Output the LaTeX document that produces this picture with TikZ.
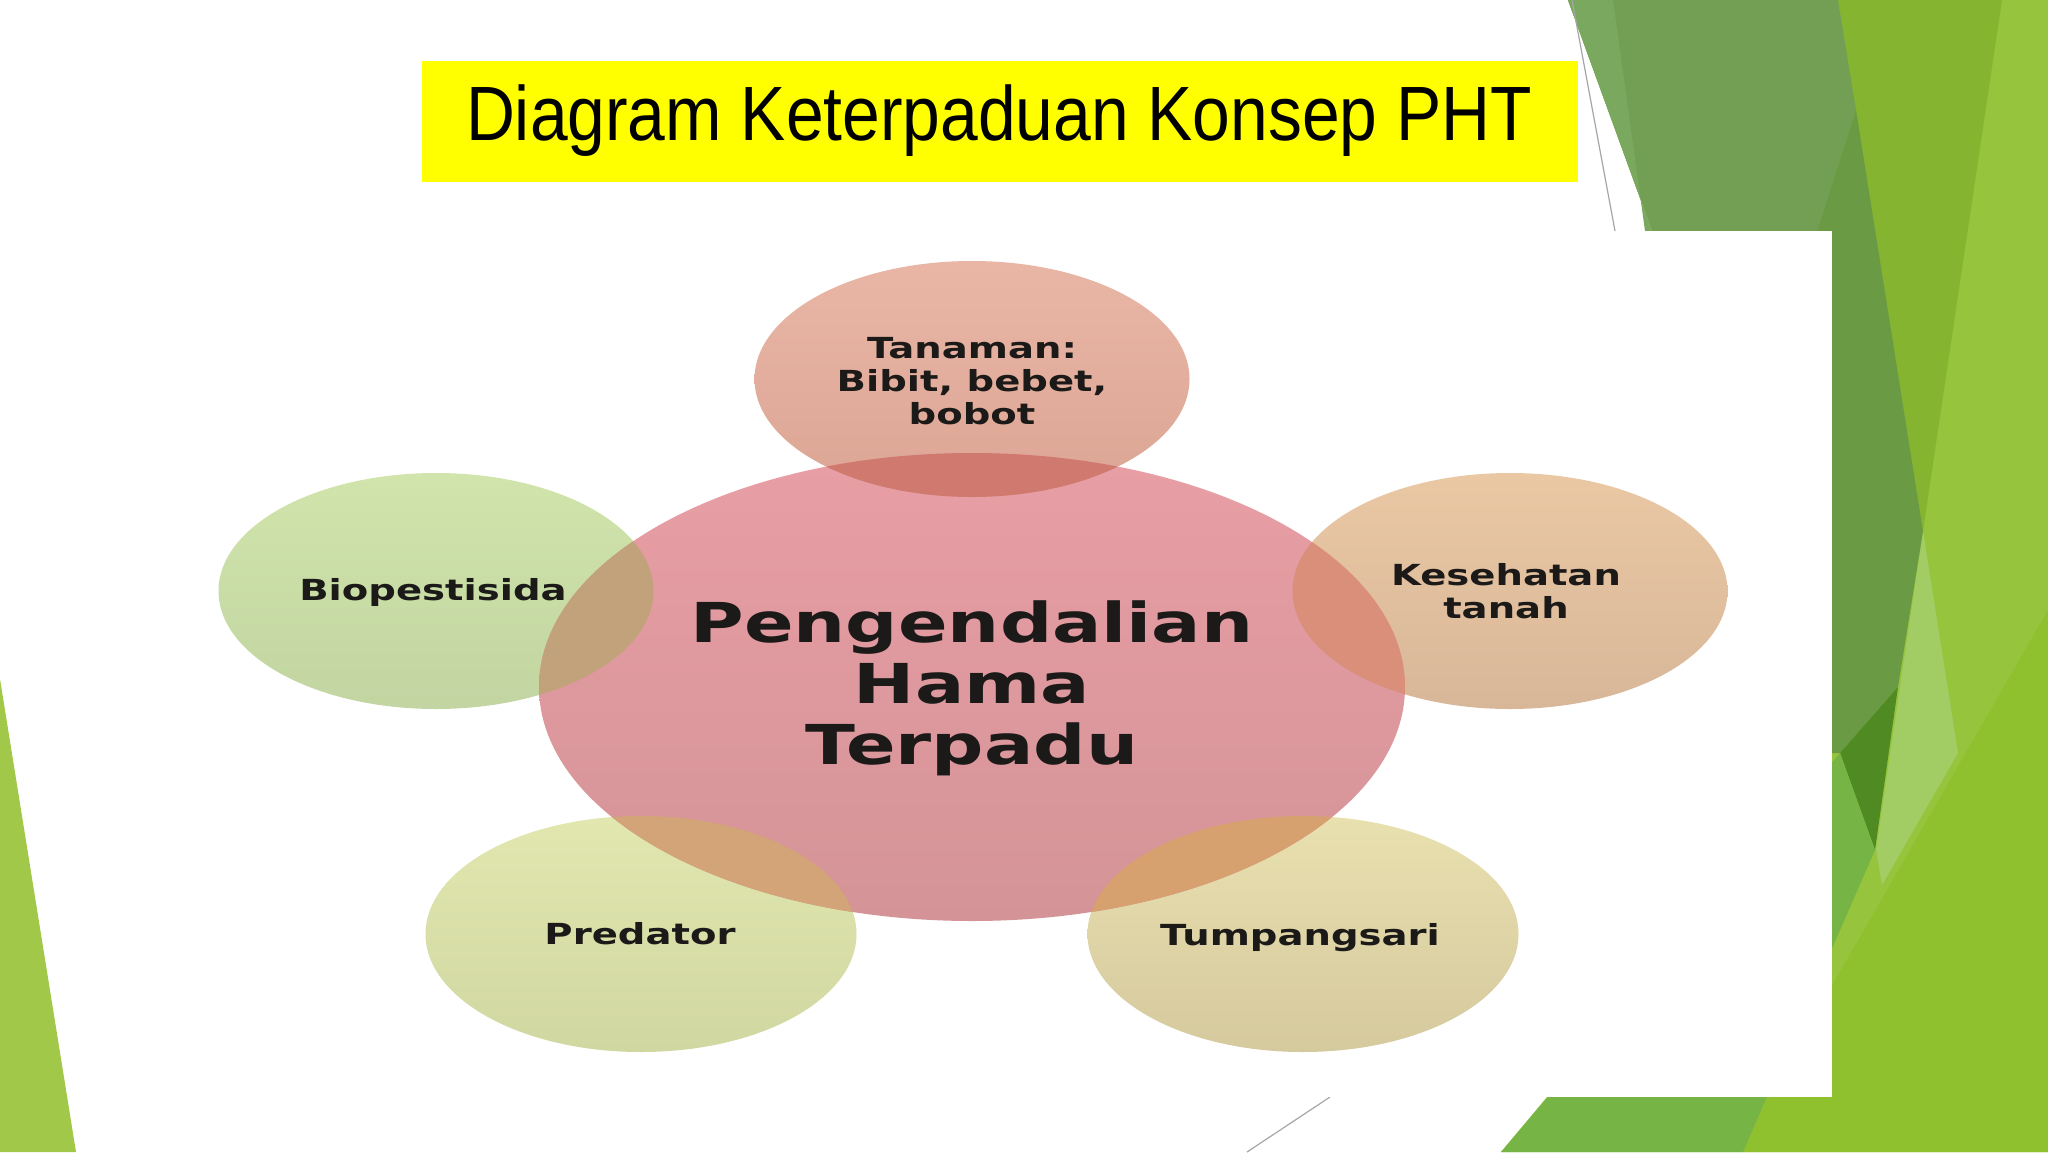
\documentclass[tikz,border=0pt]{standalone}
\usepackage{fontspec}
\setmainfont{DejaVu Sans}
\newfontfamily\titlefont{Liberation Sans}
\usetikzlibrary{shapes.geometric}
\definecolor{gbase}{HTML}{97C43D}
\definecolor{gyell}{HTML}{85B431}
\definecolor{gmid}{HTML}{729F53}
\definecolor{gsliv}{HTML}{79A85E}
\definecolor{gdark}{HTML}{6A9A44}
\definecolor{gdeep}{HTML}{4F8A23}
\definecolor{gmed}{HTML}{76B445}
\definecolor{gpale}{HTML}{A2CC64}
\definecolor{gbright}{HTML}{8FC02E}
\definecolor{gleft}{HTML}{A2C84A}
\definecolor{titley}{HTML}{FFFF00}
\definecolor{labc}{HTML}{1C1A18}
\definecolor{ovtan}{HTML}{D0796F}
\definecolor{ovkes}{HTML}{D98F7A}
\definecolor{ovbio}{HTML}{C2A27A}
\definecolor{ovpre}{HTML}{D2A477}
\definecolor{ovtum}{HTML}{D6A06F}
\newcommand\hsx[1]{\scalebox{1.33}[1]{#1}}
\tikzset{
  bubble/.style={ellipse, inner sep=0pt, draw=none},
  lab/.style={font=\bfseries\fontsize{29}{33}\selectfont, text=labc, align=center, inner sep=0pt},
  bigl/.style={font=\bfseries\fontsize{55}{61}\selectfont, text=labc, align=center, inner sep=0pt},
  thinline/.style={draw=black!35, line width=1.2pt}
}
\begin{document}
\begin{tikzpicture}[x=1pt,y=-1pt]
\useasboundingbox (0,0) rectangle (2048,1152);
\fill[white] (0,0) rectangle (2048,1152);
% right green facets
\fill[gbase] (1568,0) -- (2048,0) -- (2048,1152) -- (1501,1152) -- (1547,1097) -- (1652,231) -- cycle;
\fill[gyell] (1838,0) -- (2002,0) -- (1923,531) -- cycle;
\fill[gbright] (2048,610) -- (1768,1097) -- (1743,1152) -- (2048,1152) -- cycle;
\fill[gpale] (1923,531) -- (1958,753) -- (1882,885) -- (1876,850) -- cycle;
\fill[gmid] (1568,0) -- (1838,0) -- (1856,110) -- (1817,231) -- (1652,231) -- cycle;
\fill[gsliv] (1568,0) -- (1613,0) -- (1645,231) -- (1652,231) -- cycle;
\fill[gdark] (1856,110) -- (1923,531) -- (1898,687) -- (1840,753) -- (1760,753) -- (1817,231) -- cycle;
\fill[gdeep] (1898,687) -- (1840,753) -- (1875,850) -- cycle;
\fill[gmed] (1840,753) -- (1875,850) -- (1743,1152) -- (1501,1152) -- cycle;
% left green triangle
\fill[gleft] (0,679) -- (76,1152) -- (0,1152) -- cycle;
% thin grey lines
\coordinate (la) at (1572,0);
\coordinate (lb) at (1615,231);
\coordinate (lc) at (1330,1097);
\coordinate (ld) at (1247,1152);
\draw[thinline] (la) -- (lb);
\draw[thinline] (lc) -- (ld);
% white picture area
\fill[white] (150,231) rectangle (1832,1097);
% title
\node[fill=titley, minimum width=1156pt, minimum height=121pt, inner sep=0pt] (title) at (1000,121.5) {};
\node[anchor=base, inner sep=0pt, font=\titlefont\fontsize{77}{77}\selectfont] (titleT) at (999,140) {\scalebox{0.88}[1]{Diagram Keterpaduan Konsep PHT}};
% outer bubbles
\node[bubble, minimum width=435pt, minimum height=236pt, top color={rgb,255:red,233;green,182;blue,166}, bottom color={rgb,255:red,220;green,165;blue,148}] (tan) at (972,379) {};
\node[bubble, minimum width=435pt, minimum height=236pt, top color={rgb,255:red,234;green,200;blue,164}, bottom color={rgb,255:red,216;green,183;blue,153}] (kes) at (1510,591) {};
\node[bubble, minimum width=435pt, minimum height=236pt, top color={rgb,255:red,208;green,228;blue,171}, bottom color={rgb,255:red,194;green,213;blue,162}] (bio) at (436,591) {};
\node[bubble, minimum width=431pt, minimum height=236pt, top color={rgb,255:red,225;green,231;blue,175}, bottom color={rgb,255:red,209;green,215;blue,160}] (pre) at (641,934) {};
\node[bubble, minimum width=431pt, minimum height=236pt, top color={rgb,255:red,233;green,224;blue,175}, bottom color={rgb,255:red,213;green,201;blue,158}] (tum) at (1303,934) {};
% centre
\node[bubble, minimum width=866pt, minimum height=468pt, top color={rgb,255:red,232;green,158;blue,165}, bottom color={rgb,255:red,212;green,148;blue,151}] (cen) at (972,687) {};
% overlaps
\begin{scope}
\clip (cen.center) ellipse [x radius=433, y radius=234];
\fill[ovtan] (tan.center) ellipse [x radius=217.5, y radius=118];
\fill[ovkes] (kes.center) ellipse [x radius=217.5, y radius=118];
\fill[ovbio] (bio.center) ellipse [x radius=217.5, y radius=118];
\fill[ovpre] (pre.center) ellipse [x radius=215.5, y radius=118];
\fill[ovtum] (tum.center) ellipse [x radius=215.5, y radius=118];
\end{scope}
% labels
\node[lab] (tanT) at (972,381) {\hsx{Tanaman:}\\\hsx{Bibit, bebet,}\\\hsx{bobot}};
\node[lab] (kesT) at (1506,591) {\hsx{Kesehatan}\\\hsx{tanah}};
\node[lab] (bioT) at (433,592) {\hsx{Biopestisida}};
\node[lab] (preT) at (640,934) {\hsx{Predator}};
\node[lab] (tumT) at (1300,938) {\hsx{Tumpangsari}};
\node[bigl] (cenT) at (972,688) {\hsx{Pengendalian}\\\hsx{Hama}\\\hsx{Terpadu}};
\end{tikzpicture}
\end{document}
